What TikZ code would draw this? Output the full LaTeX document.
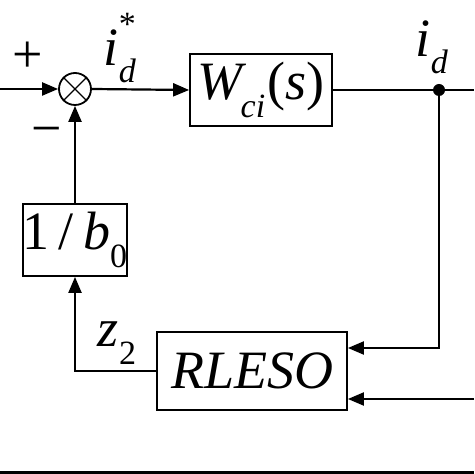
\documentclass[tikz,border=0pt]{standalone}
\usepackage{fontspec}
\newfontfamily\tms{Liberation Serif}
\usetikzlibrary{arrows.meta,positioning,calc}

\newcommand{\lowsub}[1]{\raisebox{-0.32em}{\fontsize{17}{17}\selectfont #1}}
\newcommand{\upstar}{\raisebox{0.55em}{\fontsize{17}{17}\selectfont *}}
\newcommand{\bigtxt}[1]{{\tms\fontsize{27}{30}\selectfont #1}}

\tikzset{
  blk/.style={draw, line width=0.9pt, rectangle, inner sep=0pt},
  sig/.style={line width=1.1pt, -{Triangle[length=8pt,width=6.5pt]}},
  wire/.style={line width=1.1pt},
  lbl/.style={inner sep=0pt}
}

\begin{document}
\begin{tikzpicture}[x=0.5pt,y=-0.5pt]
\useasboundingbox (0,0) rectangle (474,474);

% blocks
\node[draw, line width=0.9pt, circle, minimum size=16pt, inner sep=0pt] (sum) at (75,89) {};
\draw[line width=0.65pt] (sum.north west) -- (sum.south east) (sum.north east) -- (sum.south west);
\node[blk, minimum width=71pt, minimum height=36pt] (wci) at (261,90) {\bigtxt{\textit{W}\kern-0.1em\lowsub{\textit{ci}}\kern0.05em(\textit{s})}};
\node[blk, minimum width=51pt, minimum height=36pt] (gain) at (75,240) {\bigtxt{1\,/\,\textit{b}\lowsub{0}}};
\node[blk, minimum width=95pt, minimum height=39pt] (eso) at (252,371) {\bigtxt{\textit{RLESO}}};

\coordinate (in) at (0,89);
\coordinate (out) at (474,90);
\coordinate (br) at (439,90);
\coordinate (in2) at (474,399);

% forward path
\draw[sig] (in) -- (sum.west);
\draw[sig] (sum.east) -- (wci.west);
\draw[wire] (wci.east) -- (out);
\fill (br) circle (3pt);

% feedback
\draw[sig] (br) |- ([yshift=11.5pt]eso.east);
\draw[sig] (in2) -- ([yshift=-14pt]eso.east);
\draw[sig] (eso.west) -| (gain.south);
\draw[sig] (gain.north) -- (sum.south);

% labels
\node[lbl] (plus) at (28,57) {\bigtxt{+}};
\node[lbl] (minus) at (47,137) {\bigtxt{−}};
\node[lbl] (idref) at (120,48) {\bigtxt{\textit{i}\rlap{\upstar}\lowsub{\textit{d}}}};
\node[lbl] (idact) at (432,47) {\bigtxt{\textit{i}\lowsub{\textit{d}}}};
\node[lbl] (z2) at (117,343) {\bigtxt{\textit{z}\lowsub{2}}};

\fill (0,471) rectangle (474,474);
\end{tikzpicture}
\end{document}
